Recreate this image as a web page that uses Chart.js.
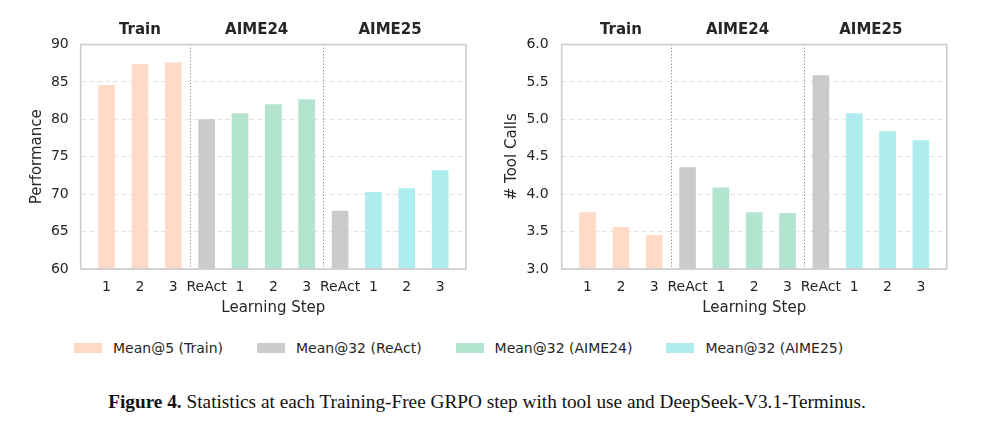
<!DOCTYPE html>
<html>
<head>
<meta charset="utf-8">
<script src="https://cdn.jsdelivr.net/npm/chart.js@4.4.1/dist/chart.umd.min.js"></script>
<style>
  body { margin: 0; background: #fff; width: 986px; height: 436px; position: relative; overflow: hidden; font-family: "DejaVu Sans", sans-serif; }
  .box { position: absolute; top: 0; }
  #legend { position: absolute; left: 74px; top: 340px; display: flex; align-items: center; font-size: 14px; color: #262626; }
  .item { display: flex; align-items: center; margin-right: 34px; }
  .swatch { width: 28px; height: 10px; margin-right: 11px; }
  #caption { position: absolute; left: 0; width: 974px; top: 391px; text-align: center; font-family: "Liberation Serif", serif; font-size: 17px; color: #111; white-space: nowrap; }
</style>
</head>
<body>
<div class="box" style="left:0"><canvas id="perfChart" width="480" height="320"></canvas></div>
<div class="box" style="left:480px"><canvas id="toolChart" width="490" height="320"></canvas></div>
<div id="legend"></div>
<div id="caption"><span id="capText"><b>Figure 4.</b> Statistics at each Training-Free GRPO step with tool use and DeepSeek-V3.1-Terminus.</span></div>
<script>
/* --------------- Data --------------------- */
const steps = ["1", "2", "3", "ReAct", "1", "2", "3", "ReAct", "1", "2", "3"];
const groups = ["Train", "AIME24", "AIME25"];
const groupSizes = [3, 4, 4];
const seriesNames = ["Mean@5 (Train)", "Mean@32 (ReAct)", "Mean@32 (AIME24)", "Mean@32 (AIME25)"];
const seriesColors = ["#ffdac6", "#cbcbcb", "#b3e4cf", "#aeeced"];
const barSeries = [0, 0, 0, 1, 2, 2, 2, 1, 3, 3, 3];
const performance = [84.6, 87.4, 87.6, 80.0, 80.8, 82.0, 82.7, 67.8, 70.3, 70.8, 73.2];
const toolCalls = [3.76, 3.56, 3.45, 4.36, 4.09, 3.76, 3.75, 5.59, 5.08, 4.84, 4.72];
const perfTicks = [60, 65, 70, 75, 80, 85, 90];
const toolTicks = [3.0, 3.5, 4.0, 4.5, 5.0, 5.5, 6.0];

const textColor = "#262626";

/* --------------- Frame, group dividers and group titles --------------------- */
const decor = {
  id: "decor",
  afterDraw(chart) {
    const { ctx, chartArea: a, scales: { x } } = chart;
    ctx.save();
    let start = 0;
    groupSizes.forEach((n, g) => {
      const end = start + n;
      if (end < steps.length) {
        const px = Math.round(x.getPixelForValue(end - 0.5)) + 0.5;
        ctx.strokeStyle = "#8c8c8c";
        ctx.lineWidth = 1;
        ctx.setLineDash([1.2, 2]);
        ctx.beginPath();
        ctx.moveTo(px, a.top);
        ctx.lineTo(px, a.bottom);
        ctx.stroke();
      }
      ctx.fillStyle = textColor;
      ctx.font = "bold 15px 'DejaVu Sans'";
      ctx.textAlign = "center";
      ctx.textBaseline = "middle";
      ctx.fillText(groups[g], x.getPixelForValue((start + end - 1) / 2), a.top - 14.5);
      start = end;
    });
    ctx.setLineDash([]);
    ctx.strokeStyle = "#cccccc";
    ctx.lineWidth = 1.6;
    ctx.strokeRect(a.left, a.top, a.right - a.left, a.bottom - a.top);
    ctx.restore();
  },
};

/* --------------- Chart --------------------- */
function makeChart(id, values, ticks, yTitle, digits, axisWidth, padRight, titlePad, tickPad) {
  return new Chart(document.getElementById(id), {
    type: "bar",
    plugins: [decor],
    data: {
      datasets: [{
        data: values.map((v, i) => ({ x: i, y: v })),
        backgroundColor: barSeries.map((s) => seriesColors[s]),
        borderWidth: 0,
        barPercentage: 0.5,
        categoryPercentage: 1,
      }],
    },
    options: {
      responsive: false,
      animation: false,
      layout: { padding: { left: 0, top: 44.5, right: padRight, bottom: 0 } },
      plugins: { legend: { display: false }, tooltip: { enabled: false } },
      scales: {
        x: {
          type: "linear",
          offset: false,
          min: -0.775,
          max: steps.length - 1 + 0.775,
          afterBuildTicks: (s) => { s.ticks = steps.map((_, i) => ({ value: i })); },
          afterFit: (s) => { s.height = 51; },
          grid: { display: false, drawTicks: false },
          border: { display: false },
          ticks: {
            autoSkip: false,
            maxRotation: 0,
            padding: 10,
            color: textColor,
            font: { family: "DejaVu Sans", size: 14 },
            callback: (v) => steps[v],
          },
          title: {
            display: true,
            text: "Learning Step",
            color: textColor,
            font: { family: "DejaVu Sans", size: 15 },
            padding: { top: 0, bottom: 3 },
          },
        },
        y: {
          min: ticks[0],
          max: ticks[ticks.length - 1],
          afterBuildTicks: (s) => { s.ticks = ticks.map((t) => ({ value: t })); },
          afterFit: (s) => { s.width = axisWidth; },
          grid: { color: "#e4e4e4", lineWidth: 1, drawTicks: false },
          border: { display: false, dash: [5, 3] },
          ticks: {
            padding: tickPad,
            color: textColor,
            font: { family: "DejaVu Sans", size: 14 },
            callback: (v) => v.toFixed(digits),
          },
          title: {
            display: true,
            text: yTitle,
            color: textColor,
            font: { family: "DejaVu Sans", size: 15 },
            padding: { top: titlePad, bottom: 0 },
          },
        },
      },
    },
  });
}

makeChart("perfChart", performance, perfTicks, "Performance", 0, 80.7, 14, 27.7, 12);
makeChart("toolChart", toolCalls, toolTicks, "# Tool Calls", 1, 81.7, 23.3, 23.3, 13);

/* --------------- Legend --------------------- */
const legend = document.getElementById("legend");
seriesNames.forEach((name, i) => {
  const item = document.createElement("div");
  item.className = "item";
  item.innerHTML = `<span class="swatch" style="background:${seriesColors[i]}"></span><span>${name}</span>`;
  legend.appendChild(item);
});

/* --------------- Caption width --------------------- */
const cap = document.getElementById("capText");
const w = cap.getBoundingClientRect().width;
document.getElementById("caption").style.fontSize = (17 * 758 / w) + "px";
</script>
</body>
</html>
